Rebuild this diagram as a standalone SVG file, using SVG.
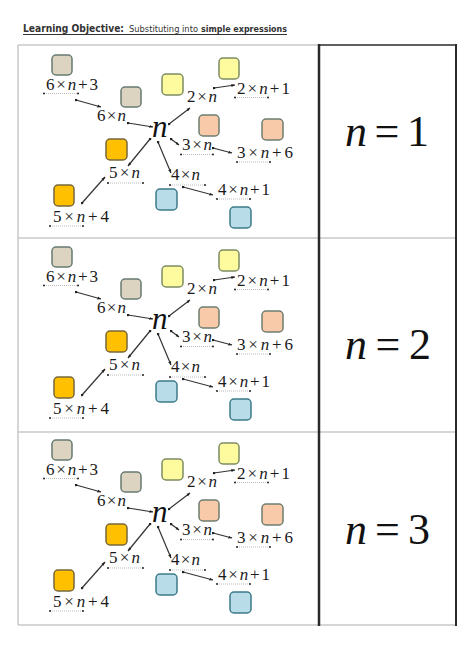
<svg xmlns="http://www.w3.org/2000/svg" width="474" height="669" viewBox="0 0 474 669">
<style>
.ex{font-family:"Liberation Serif","Times New Roman",serif;font-size:17px;fill:#1a1a1a}
.big{font-family:"Liberation Serif","Times New Roman",serif;font-size:31px;font-style:italic;fill:#111}
.val{font-family:"Liberation Serif","Times New Roman",serif;font-size:44px;fill:#111}
.i{font-style:italic}
.c{fill:none;stroke:#333;stroke-width:1.2;marker-start:url(#dot);marker-end:url(#arr)}
.ul{stroke:#bbb;stroke-width:1;stroke-dasharray:1 1}
.ud{fill:#222}
.sq{stroke-width:1.5}
.tan{fill:#dcd4c1;stroke:#687a72}
.yel{fill:#fdfb9e;stroke:#7d8c62}
.pch{fill:#f9caa9;stroke:#6e7d70}
.org{fill:#ffc000;stroke:#77683a}
.blu{fill:#b9dde8;stroke:#3d7a8a}
.grid{stroke:#c8c8c8;stroke-width:1.5}
.dark{stroke:#2a2a2a;stroke-width:2.5}
.hd{font-family:"DejaVu Sans","Verdana",sans-serif;fill:#333}
</style>
<defs>
<marker id="dot" viewBox="0 0 4 4" refX="2" refY="2" markerWidth="3" markerHeight="3" markerUnits="userSpaceOnUse"><circle cx="2" cy="2" r="1.8" fill="#222"/></marker>
<marker id="arr" viewBox="0 0 6 6" refX="5.5" refY="3" markerWidth="4" markerHeight="4" orient="auto" markerUnits="userSpaceOnUse"><path d="M0,0.8 L6,3 L0,5.2 z" fill="#222"/></marker>
</defs>
<rect width="474" height="669" fill="#fff"/>
<g id="header">
<text class="hd" x="23" y="32" font-size="10" font-weight="bold" textLength="101" lengthAdjust="spacingAndGlyphs">Learning Objective:</text>
<text class="hd" x="129" y="32" font-size="8" textLength="69" lengthAdjust="spacingAndGlyphs">Substituting into</text>
<text class="hd" x="201" y="32" font-size="8" font-weight="bold" textLength="86" lengthAdjust="spacingAndGlyphs">simple expressions</text>
<line x1="23" y1="34.5" x2="287" y2="34.5" stroke="#333" stroke-width="1"/>
</g>
<g id="table">
<line class="grid" x1="18" y1="45" x2="319" y2="45"/>
<line class="grid" x1="18" y1="45" x2="18" y2="625"/>
<line class="grid" x1="18" y1="238" x2="457" y2="238"/>
<line class="grid" x1="18" y1="432" x2="457" y2="432"/>
<line class="grid" x1="18" y1="625" x2="457" y2="625"/>
<line x1="319" y1="45" x2="456" y2="45" stroke="#2a2a2a" stroke-width="1.5"/>
<line class="dark" x1="319" y1="44" x2="319" y2="626"/>
<line x1="456" y1="44" x2="456" y2="626" stroke="#2a2a2a" stroke-width="2"/>
</g>

<g id="panel1">
<g id="p1-connectors">
<line class="c" x1="76" y1="100" x2="101" y2="107"/>
<line class="c" x1="128" y1="123" x2="153" y2="127"/>
<line class="c" x1="150" y1="139" x2="128" y2="166"/>
<line class="c" x1="82" y1="203" x2="105" y2="177"/>
<line class="c" x1="169" y1="124" x2="190" y2="108"/>
<line class="c" x1="214" y1="88" x2="235" y2="85"/>
<line class="c" x1="171" y1="139" x2="179" y2="145"/>
<line class="c" x1="213" y1="148" x2="232" y2="153"/>
<line class="c" x1="158" y1="142" x2="171" y2="173"/>
<line class="c" x1="183" y1="187" x2="213" y2="195"/>
</g>
<g id="p1-squares">
<rect class="sq tan" x="52" y="55" width="20" height="20" rx="4"/>
<rect class="sq tan" x="121" y="87" width="20" height="20" rx="4"/>
<rect class="sq yel" x="162" y="74" width="21" height="21" rx="4"/>
<rect class="sq yel" x="219" y="58" width="20" height="21" rx="4"/>
<rect class="sq pch" x="199" y="115" width="20" height="21" rx="4"/>
<rect class="sq pch" x="262" y="119" width="21" height="21" rx="4"/>
<rect class="sq org" x="106" y="139" width="21" height="21" rx="4"/>
<rect class="sq org" x="54" y="185" width="20" height="21" rx="4"/>
<rect class="sq blu" x="156" y="189" width="21" height="21" rx="4"/>
<rect class="sq blu" x="230" y="207" width="21" height="21" rx="4"/>
</g>
<g id="p1-n"><text class="big" x="152" y="137">n</text></g>
<g id="p1-6n3"><line class="ul" x1="44" y1="93.5" x2="78" y2="93.5"/><circle class="ud" cx="44" cy="93.5" r="1"/><circle class="ud" cx="78" cy="93.5" r="1"/><text class="ex" x="46" y="90" textLength="52" lengthAdjust="spacing">6×<tspan class="i">n</tspan>+3</text></g>
<g id="p1-6n"><text class="ex" x="97" y="121" textLength="29" lengthAdjust="spacing">6×<tspan class="i">n</tspan></text></g>
<g id="p1-5n"><line class="ul" x1="108" y1="183" x2="143" y2="183"/><circle class="ud" cx="108" cy="183" r="1"/><circle class="ud" cx="143" cy="183" r="1"/><text class="ex" x="109" y="178" textLength="31" lengthAdjust="spacing">5×<tspan class="i">n</tspan></text></g>
<g id="p1-5n4"><line class="ul" x1="50" y1="226" x2="83" y2="226"/><circle class="ud" cx="50" cy="226" r="1"/><circle class="ud" cx="83" cy="226" r="1"/><text class="ex" x="53" y="222" textLength="56" lengthAdjust="spacing">5×<tspan class="i">n</tspan>+4</text></g>
<g id="p1-2n"><text class="ex" x="187" y="102" textLength="30" lengthAdjust="spacing">2×<tspan class="i">n</tspan></text></g>
<g id="p1-2n1"><line class="ul" x1="235" y1="97.5" x2="268" y2="97.5"/><circle class="ud" cx="235" cy="97.5" r="1"/><circle class="ud" cx="268" cy="97.5" r="1"/><text class="ex" x="237" y="94" textLength="53" lengthAdjust="spacing">2×<tspan class="i">n</tspan>+1</text></g>
<g id="p1-3n"><line class="ul" x1="181" y1="154.5" x2="213" y2="154.5"/><circle class="ud" cx="181" cy="154.5" r="1"/><circle class="ud" cx="213" cy="154.5" r="1"/><text class="ex" x="182" y="150" textLength="30" lengthAdjust="spacing">3×<tspan class="i">n</tspan></text></g>
<g id="p1-3n6"><line class="ul" x1="237" y1="162" x2="270" y2="162"/><circle class="ud" cx="237" cy="162" r="1"/><circle class="ud" cx="270" cy="162" r="1"/><text class="ex" x="237" y="158" textLength="56" lengthAdjust="spacing">3×<tspan class="i">n</tspan>+6</text></g>
<g id="p1-4n"><line class="ul" x1="170" y1="185" x2="205" y2="185"/><circle class="ud" cx="170" cy="185" r="1"/><circle class="ud" cx="205" cy="185" r="1"/><text class="ex" x="171" y="180" textLength="29" lengthAdjust="spacing">4×<tspan class="i">n</tspan></text></g>
<g id="p1-4n1"><line class="ul" x1="217" y1="199" x2="250" y2="199"/><circle class="ud" cx="217" cy="199" r="1"/><circle class="ud" cx="250" cy="199" r="1"/><text class="ex" x="218" y="195" textLength="52" lengthAdjust="spacing">4×<tspan class="i">n</tspan>+1</text></g>
<g id="p1-value"><text class="val" x="345" y="146" textLength="84" lengthAdjust="spacing"><tspan class="i">n</tspan>=1</text></g>
</g>

<g id="panel2" transform="translate(0,192)">
<g id="p2-connectors">
<line class="c" x1="76" y1="100" x2="101" y2="107"/>
<line class="c" x1="128" y1="123" x2="153" y2="127"/>
<line class="c" x1="150" y1="139" x2="128" y2="166"/>
<line class="c" x1="82" y1="203" x2="105" y2="177"/>
<line class="c" x1="169" y1="124" x2="190" y2="108"/>
<line class="c" x1="214" y1="88" x2="235" y2="85"/>
<line class="c" x1="171" y1="139" x2="179" y2="145"/>
<line class="c" x1="213" y1="148" x2="232" y2="153"/>
<line class="c" x1="158" y1="142" x2="171" y2="173"/>
<line class="c" x1="183" y1="187" x2="213" y2="195"/>
</g>
<g id="p2-squares">
<rect class="sq tan" x="52" y="55" width="20" height="20" rx="4"/>
<rect class="sq tan" x="121" y="87" width="20" height="20" rx="4"/>
<rect class="sq yel" x="162" y="74" width="21" height="21" rx="4"/>
<rect class="sq yel" x="219" y="58" width="20" height="21" rx="4"/>
<rect class="sq pch" x="199" y="115" width="20" height="21" rx="4"/>
<rect class="sq pch" x="262" y="119" width="21" height="21" rx="4"/>
<rect class="sq org" x="106" y="139" width="21" height="21" rx="4"/>
<rect class="sq org" x="54" y="185" width="20" height="21" rx="4"/>
<rect class="sq blu" x="156" y="189" width="21" height="21" rx="4"/>
<rect class="sq blu" x="230" y="207" width="21" height="21" rx="4"/>
</g>
<g id="p2-n"><text class="big" x="152" y="137">n</text></g>
<g id="p2-6n3"><line class="ul" x1="44" y1="93.5" x2="78" y2="93.5"/><circle class="ud" cx="44" cy="93.5" r="1"/><circle class="ud" cx="78" cy="93.5" r="1"/><text class="ex" x="46" y="90" textLength="52" lengthAdjust="spacing">6×<tspan class="i">n</tspan>+3</text></g>
<g id="p2-6n"><text class="ex" x="97" y="121" textLength="29" lengthAdjust="spacing">6×<tspan class="i">n</tspan></text></g>
<g id="p2-5n"><line class="ul" x1="108" y1="183" x2="143" y2="183"/><circle class="ud" cx="108" cy="183" r="1"/><circle class="ud" cx="143" cy="183" r="1"/><text class="ex" x="109" y="178" textLength="31" lengthAdjust="spacing">5×<tspan class="i">n</tspan></text></g>
<g id="p2-5n4"><line class="ul" x1="50" y1="226" x2="83" y2="226"/><circle class="ud" cx="50" cy="226" r="1"/><circle class="ud" cx="83" cy="226" r="1"/><text class="ex" x="53" y="222" textLength="56" lengthAdjust="spacing">5×<tspan class="i">n</tspan>+4</text></g>
<g id="p2-2n"><text class="ex" x="187" y="102" textLength="30" lengthAdjust="spacing">2×<tspan class="i">n</tspan></text></g>
<g id="p2-2n1"><line class="ul" x1="235" y1="97.5" x2="268" y2="97.5"/><circle class="ud" cx="235" cy="97.5" r="1"/><circle class="ud" cx="268" cy="97.5" r="1"/><text class="ex" x="237" y="94" textLength="53" lengthAdjust="spacing">2×<tspan class="i">n</tspan>+1</text></g>
<g id="p2-3n"><line class="ul" x1="181" y1="154.5" x2="213" y2="154.5"/><circle class="ud" cx="181" cy="154.5" r="1"/><circle class="ud" cx="213" cy="154.5" r="1"/><text class="ex" x="182" y="150" textLength="30" lengthAdjust="spacing">3×<tspan class="i">n</tspan></text></g>
<g id="p2-3n6"><line class="ul" x1="237" y1="162" x2="270" y2="162"/><circle class="ud" cx="237" cy="162" r="1"/><circle class="ud" cx="270" cy="162" r="1"/><text class="ex" x="237" y="158" textLength="56" lengthAdjust="spacing">3×<tspan class="i">n</tspan>+6</text></g>
<g id="p2-4n"><line class="ul" x1="170" y1="185" x2="205" y2="185"/><circle class="ud" cx="170" cy="185" r="1"/><circle class="ud" cx="205" cy="185" r="1"/><text class="ex" x="171" y="180" textLength="29" lengthAdjust="spacing">4×<tspan class="i">n</tspan></text></g>
<g id="p2-4n1"><line class="ul" x1="217" y1="199" x2="250" y2="199"/><circle class="ud" cx="217" cy="199" r="1"/><circle class="ud" cx="250" cy="199" r="1"/><text class="ex" x="218" y="195" textLength="52" lengthAdjust="spacing">4×<tspan class="i">n</tspan>+1</text></g>
<g id="p2-value"><text class="val" x="345" y="167" textLength="86" lengthAdjust="spacing"><tspan class="i">n</tspan>=2</text></g>
</g>

<g id="panel3" transform="translate(0,385)">
<g id="p3-connectors">
<line class="c" x1="76" y1="100" x2="101" y2="107"/>
<line class="c" x1="128" y1="123" x2="153" y2="127"/>
<line class="c" x1="150" y1="139" x2="128" y2="166"/>
<line class="c" x1="82" y1="203" x2="105" y2="177"/>
<line class="c" x1="169" y1="124" x2="190" y2="108"/>
<line class="c" x1="214" y1="88" x2="235" y2="85"/>
<line class="c" x1="171" y1="139" x2="179" y2="145"/>
<line class="c" x1="213" y1="148" x2="232" y2="153"/>
<line class="c" x1="158" y1="142" x2="171" y2="173"/>
<line class="c" x1="183" y1="187" x2="213" y2="195"/>
</g>
<g id="p3-squares">
<rect class="sq tan" x="52" y="55" width="20" height="20" rx="4"/>
<rect class="sq tan" x="121" y="87" width="20" height="20" rx="4"/>
<rect class="sq yel" x="162" y="74" width="21" height="21" rx="4"/>
<rect class="sq yel" x="219" y="58" width="20" height="21" rx="4"/>
<rect class="sq pch" x="199" y="115" width="20" height="21" rx="4"/>
<rect class="sq pch" x="262" y="119" width="21" height="21" rx="4"/>
<rect class="sq org" x="106" y="139" width="21" height="21" rx="4"/>
<rect class="sq org" x="54" y="185" width="20" height="21" rx="4"/>
<rect class="sq blu" x="156" y="189" width="21" height="21" rx="4"/>
<rect class="sq blu" x="230" y="207" width="21" height="21" rx="4"/>
</g>
<g id="p3-n"><text class="big" x="152" y="137">n</text></g>
<g id="p3-6n3"><line class="ul" x1="44" y1="93.5" x2="78" y2="93.5"/><circle class="ud" cx="44" cy="93.5" r="1"/><circle class="ud" cx="78" cy="93.5" r="1"/><text class="ex" x="46" y="90" textLength="52" lengthAdjust="spacing">6×<tspan class="i">n</tspan>+3</text></g>
<g id="p3-6n"><text class="ex" x="97" y="121" textLength="29" lengthAdjust="spacing">6×<tspan class="i">n</tspan></text></g>
<g id="p3-5n"><line class="ul" x1="108" y1="183" x2="143" y2="183"/><circle class="ud" cx="108" cy="183" r="1"/><circle class="ud" cx="143" cy="183" r="1"/><text class="ex" x="109" y="178" textLength="31" lengthAdjust="spacing">5×<tspan class="i">n</tspan></text></g>
<g id="p3-5n4"><line class="ul" x1="50" y1="226" x2="83" y2="226"/><circle class="ud" cx="50" cy="226" r="1"/><circle class="ud" cx="83" cy="226" r="1"/><text class="ex" x="53" y="222" textLength="56" lengthAdjust="spacing">5×<tspan class="i">n</tspan>+4</text></g>
<g id="p3-2n"><text class="ex" x="187" y="102" textLength="30" lengthAdjust="spacing">2×<tspan class="i">n</tspan></text></g>
<g id="p3-2n1"><line class="ul" x1="235" y1="97.5" x2="268" y2="97.5"/><circle class="ud" cx="235" cy="97.5" r="1"/><circle class="ud" cx="268" cy="97.5" r="1"/><text class="ex" x="237" y="94" textLength="53" lengthAdjust="spacing">2×<tspan class="i">n</tspan>+1</text></g>
<g id="p3-3n"><line class="ul" x1="181" y1="154.5" x2="213" y2="154.5"/><circle class="ud" cx="181" cy="154.5" r="1"/><circle class="ud" cx="213" cy="154.5" r="1"/><text class="ex" x="182" y="150" textLength="30" lengthAdjust="spacing">3×<tspan class="i">n</tspan></text></g>
<g id="p3-3n6"><line class="ul" x1="237" y1="162" x2="270" y2="162"/><circle class="ud" cx="237" cy="162" r="1"/><circle class="ud" cx="270" cy="162" r="1"/><text class="ex" x="237" y="158" textLength="56" lengthAdjust="spacing">3×<tspan class="i">n</tspan>+6</text></g>
<g id="p3-4n"><line class="ul" x1="170" y1="185" x2="205" y2="185"/><circle class="ud" cx="170" cy="185" r="1"/><circle class="ud" cx="205" cy="185" r="1"/><text class="ex" x="171" y="180" textLength="29" lengthAdjust="spacing">4×<tspan class="i">n</tspan></text></g>
<g id="p3-4n1"><line class="ul" x1="217" y1="199" x2="250" y2="199"/><circle class="ud" cx="217" cy="199" r="1"/><circle class="ud" cx="250" cy="199" r="1"/><text class="ex" x="218" y="195" textLength="52" lengthAdjust="spacing">4×<tspan class="i">n</tspan>+1</text></g>
<g id="p3-value"><text class="val" x="345" y="159" textLength="85" lengthAdjust="spacing"><tspan class="i">n</tspan>=3</text></g>
</g>
</svg>
